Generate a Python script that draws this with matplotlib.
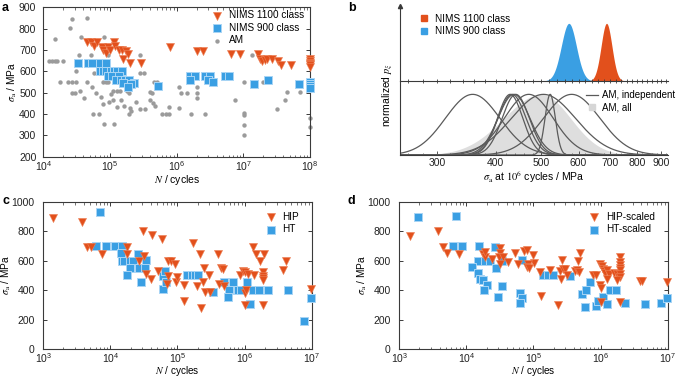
import matplotlib
matplotlib.use("Agg")
import matplotlib.pyplot as plt
import numpy as np
from matplotlib.lines import Line2D
from matplotlib.ticker import FixedLocator, NullFormatter, FuncFormatter, MultipleLocator

plt.rcParams["font.family"] = ["Liberation Sans", "DejaVu Sans"]
plt.rcParams["mathtext.fontset"] = "stix"
plt.rcParams["font.size"] = 7

ORANGE = "#e2501c"
BLUE = "#3a9fe3"
GREY = "#9b9b9b"
FRAME = "#3a3a3a"

# ---- panel a: log10(N), stress amplitude (MPa)
a_1100_logN = [4.65, 4.71, 4.765, 4.81, 4.885, 4.90, 4.935, 4.965, 5.0, 5.06, 5.075,
               5.14, 5.175, 5.195, 5.24, 5.265, 5.30, 5.465, 5.90, 6.30, 6.40, 6.81,
               6.95, 7.22, 7.25, 7.28, 7.32, 7.36, 7.43, 7.52, 7.56, 7.71,
               8.0, 8.0, 8.0, 8.0, 8.0, 8.0]
a_1100_s = [736, 736, 719, 736, 716, 700, 684, 716, 700, 736, 719,
            700, 700, 656, 697, 680, 637, 637, 716, 697, 697, 680,
            680, 680, 656, 648, 653, 656, 656, 648, 630, 630,
            660, 650, 640, 635, 630, 620]
a_900_logN = [4.515, 4.665, 4.735, 4.85, 4.94, 4.85, 4.90, 4.94, 5.01, 5.06, 5.11,
              5.185, 4.965, 5.035, 5.14, 5.085, 5.16, 5.23, 5.29, 5.19, 5.36, 5.315,
              5.265, 5.725, 6.20, 6.275, 6.20, 6.425, 6.50, 6.475, 6.55, 6.725, 6.79,
              7.165, 7.365, 7.835, 8.0, 8.0, 8.0, 8.0]
a_900_s = [640, 640, 640, 640, 640, 600, 600, 600, 600, 600, 600,
           600, 578, 578, 578, 559, 559, 559, 559, 547, 547, 539,
           528, 531, 578, 578, 559, 578, 578, 559, 551, 578, 578,
           541, 559, 541, 550, 540, 530, 520]
a_am_logN = [4.09, 4.13, 4.17, 4.21, 4.30, 4.175, 4.425, 4.40, 4.65, 4.56, 4.54,
             4.485, 4.25, 4.375, 4.435, 4.49, 4.435, 4.475, 4.55, 4.605, 4.65, 4.71,
             4.725, 4.765, 4.79, 4.865, 4.89, 4.915, 4.975, 4.89, 4.94, 4.975, 4.75,
             4.84, 4.915, 5.06, 4.985, 5.015, 5.04, 5.04, 5.10, 5.11, 5.15, 5.165,
             5.21, 5.26, 5.29, 5.30, 5.31, 5.29, 5.39, 5.45, 5.45, 5.51, 5.45, 5.525,
             5.60, 5.625, 5.66, 5.71, 5.60, 5.65, 5.68, 5.775, 5.84, 5.88, 5.885,
             6.035, 6.065, 6.16, 6.035, 6.21, 6.30, 6.30, 6.30, 6.425, 6.875, 7.015,
             7.01, 7.01, 7.01, 7.01, 7.125, 7.30, 7.50, 7.62, 7.655, 7.85, 8.0, 8.0]
a_am_s = [650, 650, 650, 650, 650, 751, 845, 802, 852, 759, 677,
          602, 552, 552, 552, 552, 500, 500, 509, 477, 552, 677,
          528, 591, 500, 481, 445, 759, 677, 552, 552, 552, 400,
          400, 352, 352, 458, 492, 509, 465, 431, 509, 509, 465,
          437, 509, 500, 427, 414, 400, 455, 677, 591, 591, 422, 422,
          505, 500, 552, 552, 465, 450, 437, 400, 400, 400, 434,
          525, 500, 500, 427, 400, 525, 500, 473, 400, 465, 548,
          403, 396, 348, 302, 677, 548, 422, 465, 505, 505, 380, 338]

# ---- panel b: log-normal densities (centre MPa, sigma in log10 units)
b_nims_centre = [688, 572]
b_nims_sigma = [0.0115, 0.016]
b_nims_labels = ["NIMS 1100 class", "NIMS 900 class"]
b_am_centre = [357, 429, 433, 437, 441, 470, 505, 522, 580]
b_am_sigma = [0.058, 0.027, 0.030, 0.034, 0.029, 0.052, 0.068, 0.011, 0.060]
b_all_centre = 500
b_all_sigma_left, b_all_sigma_right = 0.080, 0.062
b_ticks = [300, 400, 500, 600, 700, 800, 900]

# ---- panel c
c_hip_logN = [3.15, 3.57, 3.645, 3.705, 3.87, 4.25, 4.25, 4.49, 4.615, 4.765, 4.43,
              4.50, 4.53, 4.60, 4.715, 4.865, 4.90, 4.96, 4.865, 4.84, 4.975, 5.0,
              5.09, 5.09, 5.23, 5.335, 5.40, 5.285, 5.375, 5.475, 5.41, 5.485, 5.35,
              5.61, 5.62, 5.65, 5.68, 5.70, 5.93, 5.98, 6.01, 6.05, 6.00, 6.02, 6.00,
              6.12, 6.17, 6.29, 6.23, 6.145, 6.28, 6.28, 6.28, 6.28, 6.28, 6.62, 6.58,
              6.985]
c_hip_s = [889, 860, 695, 695, 648, 695, 648, 800, 773, 749, 599,
           632, 510, 477, 528, 599, 599, 577, 499, 440, 454, 488,
           432, 325, 717, 648, 550, 425, 454, 503, 384, 384, 277,
           648, 444, 550, 543, 425, 503, 530, 525, 510, 382, 400, 296,
           695, 648, 648, 599, 503, 525, 499, 483, 469, 298, 599, 537,
           405]
c_ht_logN = [3.845, 3.785, 3.93, 4.07, 4.18, 4.155, 4.405, 4.17, 4.21, 4.285, 4.34,
             4.525, 4.29, 4.425, 4.515, 4.25, 4.45, 4.78, 4.79, 4.82, 4.83, 5.14,
             5.21, 5.265, 5.31, 5.535, 5.70, 5.77, 5.75, 5.83, 5.905, 5.95, 6.03,
             6.08, 6.13, 6.21, 6.35, 6.65, 6.89, 6.985]
c_ht_s = [927, 699, 699, 699, 699, 650, 643, 599, 599, 599, 599,
          603, 550, 550, 550, 505, 454, 405, 499, 528, 454, 503,
          503, 503, 503, 384, 454, 403, 355, 454, 403, 403, 454,
          303, 403, 403, 403, 403, 193, 349]

# ---- panel d
d_hip_logN = [3.16, 3.58, 3.655, 3.705, 3.89, 4.25, 4.28, 4.28, 4.50, 4.50, 4.49,
              4.55, 4.385, 4.50, 4.615, 4.725, 4.765, 4.86, 4.90, 4.99, 5.01, 4.92,
              4.90, 4.94, 5.10, 5.105, 5.245, 5.36, 5.395, 5.435, 5.47, 5.42, 5.41,
              5.505, 5.62, 5.645, 5.685, 5.67, 5.695, 5.88, 5.93, 5.99, 6.015, 5.99,
              6.00, 6.03, 6.045, 6.06, 6.10, 6.12, 6.10, 6.00, 6.20, 6.245, 6.29,
              6.29, 6.29, 6.29, 6.29, 6.29, 6.29, 6.245, 6.29, 6.585, 6.62, 6.985]
d_hip_s = [766, 800, 695, 650, 648, 648, 626, 660, 688, 655, 622,
           622, 612, 575, 592, 655, 575, 667, 670, 639, 587, 577,
           560, 550, 521, 358, 537, 302, 532, 543, 543, 604, 476,
           505, 528, 537, 526, 599, 654, 505, 505, 577, 566, 432,
           414, 543, 528, 515, 537, 510, 476, 318, 516, 510, 624,
           590, 572, 552, 534, 512, 490, 468, 320, 465, 465, 454]
d_ht_logN = [3.283, 3.845, 3.805, 3.94, 4.19, 4.425, 4.18, 4.28, 4.35, 4.535, 4.08,
             4.435, 4.17, 4.205, 4.25, 4.30, 4.265, 4.525, 4.475, 4.80, 4.835, 4.80,
             4.825, 5.135, 5.21, 5.295, 5.545, 5.72, 5.78, 5.84, 5.77, 5.93, 5.965,
             6.04, 6.09, 6.14, 6.23, 6.36, 6.66, 6.90, 6.985]
d_ht_s = [893, 900, 699, 699, 699, 692, 599, 599, 599, 599, 559,
          550, 517, 477, 470, 436, 398, 428, 354, 383, 348, 310,
          604, 503, 503, 503, 499, 372, 403, 454, 288, 294, 325,
          356, 303, 403, 403, 314, 309, 314, 349]


def style_axes(ax, ypad=5.0):
    for sp in ax.spines.values():
        sp.set_color(FRAME)
        sp.set_linewidth(0.8)
    ax.tick_params(which="both", direction="in", top=True, right=True,
                   colors=FRAME, labelcolor="#222222", labelsize=7.5)
    ax.tick_params(axis="x", pad=1.5)
    ax.tick_params(axis="y", pad=ypad)
    ax.tick_params(which="major", length=3, width=0.7)
    ax.tick_params(which="minor", length=1.8, width=0.5)


def tri(ax, logN, s, label):
    ax.scatter(10 ** np.asarray(logN), s, marker="v", s=34, color=ORANGE,
               edgecolors="#ee8358", linewidths=0.4, label=label, zorder=4, clip_on=False)


def sq(ax, logN, s, label):
    ax.scatter(10 ** np.asarray(logN), s, marker="s", s=30, color=BLUE,
               edgecolors="#a9d5f5", linewidths=0.7, label=label, zorder=3, clip_on=False)


fig = plt.figure(figsize=(6.85, 3.78), dpi=100)

# ---------------- panel a
ax = fig.add_axes([0.0632, 0.5854, 0.3894, 0.3953])
ax.scatter(10 ** np.asarray(a_am_logN), a_am_s, marker="o", s=10, color=GREY,
           linewidths=0, label="AM", zorder=2, clip_on=False)
sq(ax, a_900_logN, a_900_s, "NIMS 900 class")
tri(ax, a_1100_logN, a_1100_s, "NIMS 1100 class")
ax.set_xscale("log")
ax.set_xlim(1e4, 1e8)
ax.set_ylim(200, 900)
ax.yaxis.set_major_locator(MultipleLocator(100))
style_axes(ax)
ax.set_xlabel("$N$ / cycles", labelpad=0, fontsize=7.5)
ax.set_ylabel(r"$\sigma_\mathrm{a}$ / MPa", labelpad=0, fontsize=7.3)
h, l = ax.get_legend_handles_labels()
ax.legend([h[2], h[1], h[0]], [l[2], l[1], l[0]], loc="upper right", frameon=False,
          handletextpad=0.2, borderaxespad=0.2, labelspacing=0.25, fontsize=7.2,
          bbox_to_anchor=(1.0, 1.02))

# ---------------- panel b
left, width = 0.5839, 0.3913
axu = fig.add_axes([left, 0.7857, width, 0.1983])
axl = fig.add_axes([left, 0.5899, width, 0.1958])
xs = np.logspace(np.log10(250), np.log10(930), 800)
lx = np.log10(xs)

for c, sgm, col in zip(b_nims_centre, b_nims_sigma, [ORANGE, BLUE]):
    y = np.exp(-0.5 * ((lx - np.log10(c)) / sgm) ** 2)
    axu.fill_between(xs, 0, y, color=col, lw=0)
axu.set_ylim(0, 1.3)

sig = np.where(lx < np.log10(b_all_centre), b_all_sigma_left, b_all_sigma_right)
yall = np.exp(-0.5 * ((lx - np.log10(b_all_centre)) / sig) ** 2)
axl.fill_between(xs, 0, yall, color="#dedede", lw=0, zorder=1)
for c, sgm in zip(b_am_centre, b_am_sigma):
    y = np.exp(-0.5 * ((lx - np.log10(c)) / sgm) ** 2)
    axl.plot(xs, y, color="#5a5a5a", lw=0.9, zorder=2)
axl.set_ylim(0, 1.22)

for a_ in (axu, axl):
    a_.set_xscale("log")
    a_.set_xlim(250, 930)
    a_.spines["top"].set_visible(False)
    a_.spines["right"].set_visible(False)
    for sp in ("left", "bottom"):
        a_.spines[sp].set_color(FRAME)
        a_.spines[sp].set_linewidth(0.8)
    a_.set_yticks([])
    a_.xaxis.set_major_locator(FixedLocator(b_ticks))
    a_.xaxis.set_minor_locator(FixedLocator(np.arange(260, 930, 20)))
    a_.xaxis.set_minor_formatter(NullFormatter())
    a_.patch.set_alpha(0)

axu.xaxis.set_major_formatter(NullFormatter())
axu.tick_params(axis="x", which="both", direction="inout", colors=FRAME, length=3, width=0.6)
axl.xaxis.set_major_formatter(FuncFormatter(lambda v, p: f"{v:.0f}"))
axl.tick_params(axis="x", which="major", direction="in", length=3, width=0.6, pad=2,
                colors=FRAME, labelcolor="#222222", labelsize=7.5)
axl.tick_params(axis="x", which="minor", direction="in", length=1.8, width=0.5, colors=FRAME)
axl.set_xlabel(r"$\sigma_\mathrm{a}$ at $10^6$ cycles / MPa", labelpad=1, fontsize=7.5)
axu.plot(0, 1.0, marker="^", ms=3, color=FRAME, transform=axu.transAxes, clip_on=False)

hu = [Line2D([], [], ls="none", marker="s", ms=5, color=ORANGE),
      Line2D([], [], ls="none", marker="s", ms=5, color=BLUE)]
axu.legend(hu, b_nims_labels, loc="upper left", frameon=False, handletextpad=0.1,
           labelspacing=0.25, fontsize=7.2, bbox_to_anchor=(0.02, 1.02))
hl = [Line2D([], [], color="#5a5a5a", lw=0.9),
      Line2D([], [], ls="none", marker="s", ms=5, color="#d6d6d6")]
axl.legend(hl, ["AM, independent", "AM, all"], loc="upper left", frameon=False,
           handlelength=1.2, handletextpad=0.4, labelspacing=0.25, fontsize=7.0,
           borderpad=0.2, bbox_to_anchor=(0.67, 0.97))
fig.text(0.567, 0.75, r"normalized $p_\xi$", rotation=90, ha="center", va="center", fontsize=7.5)

# ---------------- panels c and d
for pos, hip, hip_s, ht, ht_s, names in [
        ([0.0632, 0.0765, 0.3918, 0.3899], c_hip_logN, c_hip_s, c_ht_logN, c_ht_s, ("HIP", "HT")),
        ([0.5829, 0.0765, 0.3918, 0.3899], d_hip_logN, d_hip_s, d_ht_logN, d_ht_s,
         ("HIP-scaled", "HT-scaled"))]:
    ax = fig.add_axes(pos)
    sq(ax, ht, ht_s, names[1])
    tri(ax, hip, hip_s, names[0])
    ax.set_xscale("log")
    ax.set_xlim(1e3, 1e7)
    ax.set_ylim(0, 1000)
    ax.yaxis.set_major_locator(MultipleLocator(200))
    style_axes(ax, ypad=6.2)
    ax.set_xlabel("$N$ / cycles", labelpad=-0.8, fontsize=7.2)
    ax.set_ylabel(r"$\sigma_\mathrm{a}$ / MPa", labelpad=-1, fontsize=7.3)
    h, l = ax.get_legend_handles_labels()
    ax.legend([h[1], h[0]], [l[1], l[0]], loc="upper right", frameon=False,
              handletextpad=0.2, borderaxespad=0.3, labelspacing=0.25, fontsize=7.2,
              bbox_to_anchor=(0.98, 0.98))

for x, y, t in [(0.003, 0.995, "a"), (0.508, 0.995, "b"), (0.003, 0.485, "c"), (0.508, 0.485, "d")]:
    fig.text(x, y, t, fontweight="bold", fontsize=9, va="top", ha="left")

fig.savefig("out.png", dpi=100)
